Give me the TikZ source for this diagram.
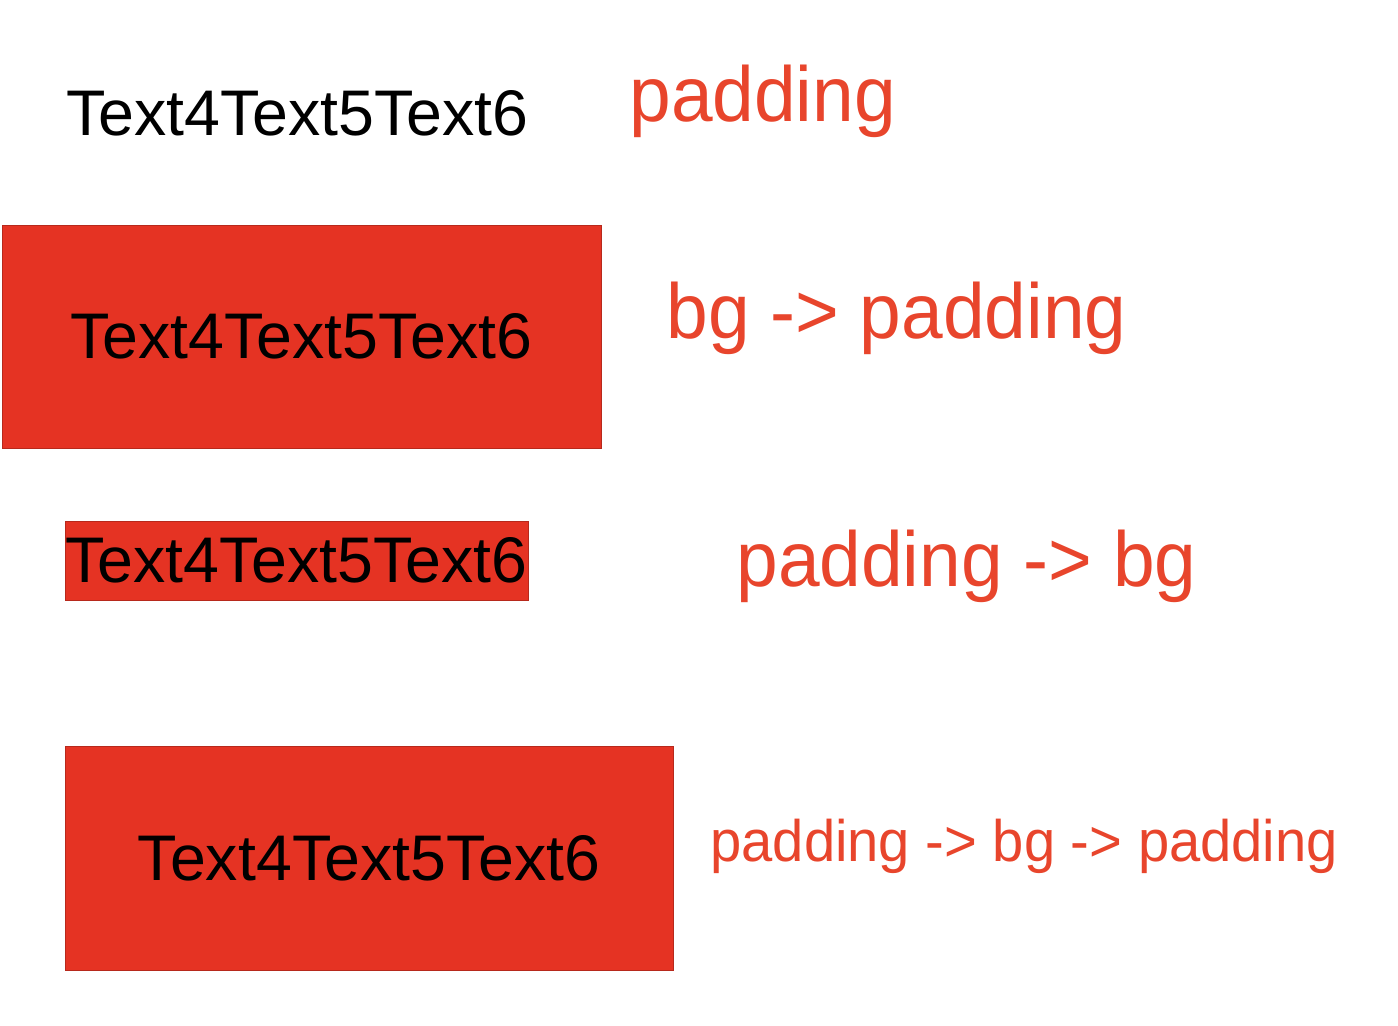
\documentclass[tikz,border=0pt]{standalone}
\usepackage{fontspec}
\usepackage{xcolor}
\usetikzlibrary{positioning}
\newfontfamily\samplefont{Liberation Sans}
\newfontfamily\notefont[FakeStretch=0.96]{Liberation Sans}
\definecolor{bgred}{HTML}{E53323}
\definecolor{notered}{HTML}{E8452C}

\tikzset{
    sample/.style={inner sep=0pt, font=\samplefont\fontsize{36.7pt}{37pt}\selectfont, text=black},
    bgbox/.style={sample, fill=bgred, draw=bgred!80!black, line width=0.5pt},
    note/.style={inner sep=0pt, anchor=base west, text=notered, font=\notefont\fontsize{44.4pt}{45pt}\selectfont},
    smallnote/.style={note, font=\notefont\fontsize{33.3pt}{34pt}\selectfont}
}

\begin{document}
\begin{tikzpicture}[x=0.02cm, y=-0.02cm]
        \useasboundingbox (0,0) rectangle (1398,1026);
        % plain text, no background
        \node[sample, anchor=base west] (plain) at (66,136) {Text4Text5Text6};
        \node[note] (padnote) at (629,122) {padding};
        % background first, then padding
        \node[bgbox, minimum width=599*0.02cm, minimum height=223*0.02cm] (bgpad) at (301.5,336.5) {Text4Text5Text6};
        \node[note] (bgpadnote) at (666,339) {bg -> padding};
        % padding first, then background
        \node[bgbox, minimum width=463*0.02cm, minimum height=79*0.02cm] (padbg) at (296.5,560.5) {Text4Text5Text6};
        \node[note] (padbgnote) at (736,586) {padding -> bg};
        % padding, background, padding
        \node[bgbox, minimum width=608*0.02cm, minimum height=224*0.02cm] (padbgpad) at (369,858) {Text4Text5Text6};
        \node[smallnote] (padbgpadnote) at (710,861) {padding -> bg -> padding};
\end{tikzpicture}
\end{document}
